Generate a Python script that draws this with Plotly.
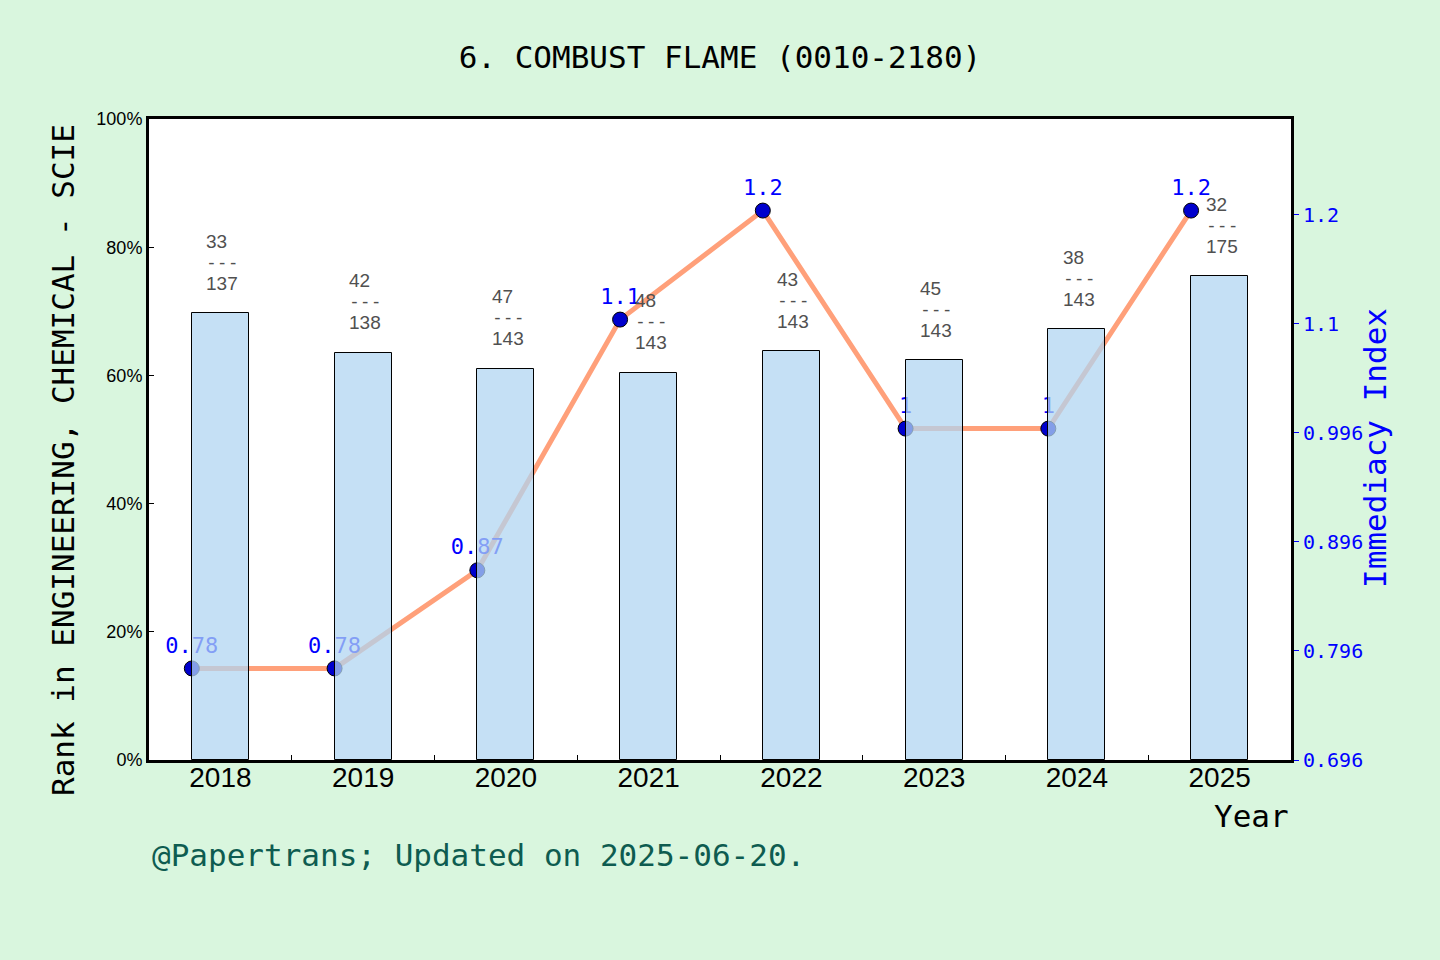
import plotly.graph_objects as go

years = ['2018', '2019', '2020', '2021', '2022', '2023', '2024', '2025']
rank_pct = [69.7, 63.5, 61.0, 60.4, 63.8, 62.4, 67.2, 75.5]
rank_num = [33, 42, 47, 48, 43, 45, 38, 32]
rank_total = [137, 138, 143, 143, 143, 143, 143, 175]
immediacy = [0.78, 0.78, 0.87, 1.1, 1.2, 1.0, 1.0, 1.2]
immediacy_labels = ['0.78', '0.78', '0.87', '1.1', '1.2', '1', '1', '1.2']
pct_ticks = [0, 20, 40, 60, 80, 100]
right_tickvals = [0.696, 0.796, 0.896, 0.996, 1.096, 1.196]
right_ticktext = ['0.696', '0.796', '0.896', '0.996', '1.1', '1.2']

MONO = 'DejaVu Sans Mono'
SANS = 'Liberation Sans'
BG = '#d9f6de'

xs = list(range(len(years)))
bar_w = 0.4
line_x = [i - bar_w / 2 for i in xs]

fig = go.Figure()

# Line (base subplot, drawn below bars)
fig.add_trace(go.Scatter(
    x=line_x, y=immediacy, xaxis='x', yaxis='y',
    mode='lines+markers+text',
    line=dict(color='#ffa07a', width=5),
    marker=dict(color='#0000cd', size=15, line=dict(color='black', width=1)),
    text=immediacy_labels, textposition='top center',
    textfont=dict(family=MONO, size=22, color='#0000ff'),
    cliponaxis=False, showlegend=False,
))

# Bars (overlay subplot, drawn above line)
fig.add_trace(go.Bar(
    x=xs, y=rank_pct, xaxis='x', yaxis='y2', width=bar_w,
    marker=dict(color='rgba(177,213,242,0.74)', line=dict(color='black', width=1)),
    showlegend=False,
))

annotations = []
for i in xs:
    for txt, shift, fam, sz in [(str(rank_num[i]), 72, SANS, 19),
                                ('---', 52, MONO, 18),
                                (str(rank_total[i]), 30, SANS, 19)]:
        annotations.append(dict(
            x=i, y=rank_pct[i], xref='x', yref='y2',
            text=txt, showarrow=False, xanchor='left', yanchor='middle',
            xshift=-16, yshift=shift,
            font=dict(family=fam, size=sz, color='#505050'),
        ))

# Axis titles and footer
annotations += [
    dict(text='Rank in ENGINEERING, CHEMICAL - SCIE', xref='paper', yref='paper',
         x=-149 / 1142 + 63 / 1142, y=1 - (460 - 119) / 641, textangle=-90,
         showarrow=False, xanchor='center', yanchor='middle',
         font=dict(family=MONO, size=31, color='black')),
    dict(text='Immediacy Index', xref='paper', yref='paper',
         x=(1375 - 149) / 1142, y=1 - (448 - 119) / 641, textangle=-90,
         showarrow=False, xanchor='center', yanchor='middle',
         font=dict(family=MONO, size=31, color='#0000ff')),
    dict(text='Year', xref='paper', yref='paper',
         x=1.0, y=1 - (816 - 119) / 641,
         showarrow=False, xanchor='right', yanchor='middle',
         font=dict(family=MONO, size=31, color='black')),
    dict(text='@Papertrans; Updated on 2025-06-20.', xref='paper', yref='paper',
         x=(150 - 149) / 1142, y=1 - (855 - 119) / 641,
         showarrow=False, xanchor='left', yanchor='middle',
         font=dict(family=MONO, size=31, color='#0e5c50')),
]

fig.update_layout(
    width=1440, height=960,
    paper_bgcolor=BG, plot_bgcolor='white',
    margin=dict(l=149, r=149, t=119, b=200),
    title=dict(text='6. COMBUST FLAME (0010-2180)', x=0.5, xanchor='center',
               y=1 - 57 / 960, yanchor='middle',
               font=dict(family=MONO, size=31, color='black')),
    xaxis=dict(
        range=[-0.5, 7.5], tickvals=xs, ticktext=years, ticks='', showgrid=False,
        zeroline=False, showline=True, linecolor='black', linewidth=3, mirror=True,
        tickfont=dict(family=SANS, size=28, color='black'),
        ticklabelstandoff=-10,
        minor=dict(tickvals=[i + 0.5 for i in xs[:-1]], ticks='inside', ticklen=5,
                   tickcolor='black', tickwidth=1, showgrid=False),
    ),
    yaxis=dict(
        side='right', range=[0.696, 1.284], tickvals=right_tickvals, ticktext=right_ticktext,
        ticks='outside', ticklen=5, tickcolor='#0000ff', showgrid=False, zeroline=False,
        showline=True, linecolor='black', linewidth=3,
        tickfont=dict(family=MONO, size=20, color='#0000ff'),
    ),
    yaxis2=dict(
        overlaying='y', side='left', range=[0, 100], tickvals=pct_ticks,
        ticktext=[f'{v}%' for v in pct_ticks],
        ticks='inside', ticklen=5, tickcolor='black', showgrid=False, zeroline=False,
        showline=True, linecolor='black', linewidth=3,
        tickfont=dict(family=SANS, size=18, color='black'),
    ),
    annotations=annotations,
    bargap=0,
)

fig.write_html('out.html')
